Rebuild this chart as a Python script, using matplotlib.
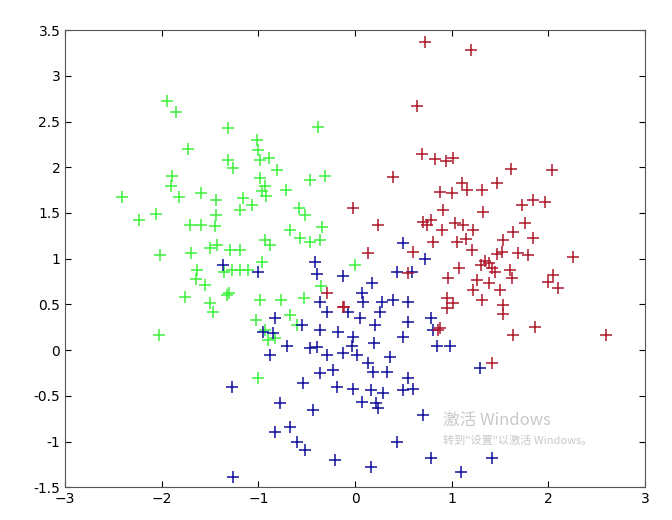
import numpy as np
import matplotlib.pyplot as plt

green_x = [-1.95, -1.85, -1.32, -0.38, -1.02, -1.01, -1.73, -1.32, -1.26, -0.98, -0.89, -0.81, -1.89, -1.91,
           -0.98, -0.93, -0.47, -0.31, -2.41, -1.82, -1.6, -1.44, -1.16, -0.96, -0.92, -0.72, -2.24, -2.06,
           -1.71, -1.6, -1.45, -1.44, -1.19, -1.07, -0.58, -0.52, -0.34, -2.02, -1.7, -1.5, -1.43, -1.29,
           -1.19, -0.93, -0.88, -0.67, -0.57, -0.47, -0.36, -1.19, -0.96, -1.76, -1.64, -1.55, -1.5, -1.47,
           -1.33, -1.36, -1.31, -1.27, -1.11, -1.03, -0.93, -0.9, -0.83, -0.98, -0.67, -0.6, -0.77, -2.03,
           -1.0, 0.0, -0.53, -1.65, -0.35]
green_y = [2.73, 2.6, 2.43, 2.44, 2.3, 2.19, 2.2, 2.08, 1.99, 2.08, 2.1, 1.97, 1.91, 1.79,
           1.88, 1.8, 1.86, 1.91, 1.67, 1.68, 1.72, 1.64, 1.66, 1.74, 1.69, 1.75, 1.42, 1.49,
           1.37, 1.37, 1.36, 1.48, 1.53, 1.59, 1.55, 1.48, 1.35, 1.04, 1.06, 1.12, 1.15, 1.09,
           1.09, 1.2, 1.15, 1.31, 1.23, 1.18, 1.2, 0.88, 0.96, 0.58, 0.88, 0.71, 0.52, 0.42,
           0.6, 0.85, 0.63, 0.88, 0.88, 0.33, 0.22, 0.11, 0.13, 0.55, 0.38, 0.27, 0.55, 0.16,
           -0.3, 0.93, 0.57, 0.78, 0.7]

blue_x = [0.49, -0.42, -0.39, -0.13, 0.43, 0.59, 0.72, -1.0, 0.17, 0.07, 0.08, -0.36, -0.29, -0.07,
          0.28, 0.39, 0.55, 0.26, 0.05, 0.21, 0.55, 0.78, 0.81, 0.5, 0.85, 0.98, -0.83, -0.55,
          -0.36, -0.18, -0.02, -0.03, 0.19, -0.95, -0.7, -0.47, -0.39, -0.88, -0.29, -0.13, 0.02,
          0.36, -0.36, -0.23, 0.13, 0.18, 0.33, 0.55, -1.27, -0.54, -0.19, -0.02, 0.16, 0.29, 0.49,
          0.6, 0.07, 0.22, 0.24, -0.78, -0.44, 0.7, -0.83, -0.67, -0.6, -0.52, 0.43, -0.21, 0.16,
          0.78, 1.42, 1.09, 1.29, -1.26, -1.37, -0.85]
blue_y = [1.17, 0.96, 0.83, 0.81, 0.85, 0.85, 1.0, 0.85, 0.73, 0.63, 0.53, 0.53, 0.42, 0.42,
          0.53, 0.55, 0.53, 0.42, 0.35, 0.27, 0.31, 0.35, 0.22, 0.14, 0.05, 0.05, 0.35, 0.27,
          0.22, 0.2, 0.14, 0.05, 0.08, 0.2, 0.05, 0.02, 0.03, -0.05, -0.05, -0.03, -0.05,
          -0.08, -0.25, -0.22, -0.14, -0.24, -0.24, -0.3, -0.4, -0.36, -0.4, -0.42, -0.44, -0.47, -0.44,
          -0.42, -0.57, -0.58, -0.63, -0.58, -0.66, -0.71, -0.9, -0.84, -1.0, -1.09, -1.0, -1.2, -1.28,
          -1.18, -1.18, -1.33, -0.2, -1.39, 0.93, 0.19]

red_x = [0.72, 1.2, 0.64, 0.69, 0.83, 0.94, 1.01, 0.39, 1.61, 2.04, 1.11, 0.88, 1.0, 1.16,
         1.31, 1.47, -0.02, 1.73, 1.84, 1.96, 1.32, 0.91, 0.7, 0.74, 1.03, 1.12, 1.22, 0.9,
         0.24, 1.76, 1.63, 1.84, 1.53, 0.81, 1.05, 1.21, 1.52, 1.68, 1.79, 0.13, 0.6, 2.25,
         1.34, 1.42, 1.6, 1.07, 0.96, 1.26, 1.38, 1.62, 2.05, 2.0, 2.1, 1.5, 1.22, 0.95,
         1.31, 1.01, 1.53, 1.53, 0.95, 0.86, 1.63, 1.86, 2.6, 1.42, 0.55, -0.12, -0.29, 0.88,
         -0.13, 1.38, 1.45, 1.3, 1.47, 0.78, 1.15]
red_y = [3.37, 3.28, 2.67, 2.14, 2.09, 2.07, 2.1, 1.89, 1.98, 1.97, 1.83, 1.73, 1.72, 1.75,
         1.75, 1.83, 1.56, 1.59, 1.64, 1.62, 1.51, 1.53, 1.4, 1.37, 1.39, 1.37, 1.31, 1.31,
         1.37, 1.39, 1.29, 1.23, 1.2, 1.18, 1.18, 1.09, 1.07, 1.06, 1.04, 1.06, 1.07, 1.02,
         0.98, 0.9, 0.88, 0.9, 0.79, 0.77, 0.73, 0.79, 0.82, 0.74, 0.68, 0.66, 0.66, 0.57,
         0.55, 0.51, 0.49, 0.4, 0.46, 0.22, 0.16, 0.25, 0.16, -0.14, 0.84, 0.47, 0.63, 0.24,
         0.47, 0.95, 0.85, 0.93, 1.05, 1.42, 1.22]

fig = plt.figure(figsize=(6.72, 5.2), dpi=100)
ax = fig.add_axes([0.097, 0.063, 0.863, 0.879])

style = dict(marker='+', linestyle='none', markersize=8, markeredgewidth=1.1)
ax.plot(green_x, green_y, color='#3cf03c', **style)
ax.plot(blue_x, blue_y, color='#10109a', **style)
ax.plot(red_x, red_y, color='#b0182c', **style)

ax.set_xlim(-3, 3)
ax.set_ylim(-1.5, 3.5)
ax.set_xticks(np.arange(-3, 3.1, 1))
ax.set_yticks(np.arange(-1.5, 3.6, 0.5))
ax.set_yticklabels(['-1.5', '-1', '-0.5', '0', '0.5', '1', '1.5', '2', '2.5', '3', '3.5'])
ax.tick_params(direction='in', top=True, right=True, labelsize=10, length=4)
for s in ax.spines.values():
    s.set_color('#555555')

fig.text(443 / 672, 1 - 421 / 520, '激活 Windows', fontsize=12, color='#c8c8c8',
         family=['Noto Sans CJK SC', 'DejaVu Sans'], va='center')
fig.text(443 / 672, 1 - 441 / 520, '转到"设置"以激活 Windows。', fontsize=8, color='#c8c8c8',
         family=['Noto Sans CJK SC', 'DejaVu Sans'], va='center')

fig.savefig('out.png', dpi=100)
